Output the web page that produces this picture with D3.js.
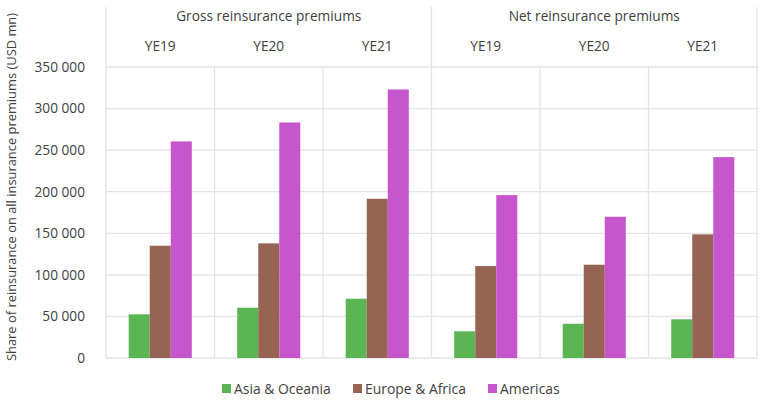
<!DOCTYPE html>
<html><head><meta charset="utf-8">
<script src="https://cdn.jsdelivr.net/npm/d3@7"></script>
<style>body{margin:0;background:#fff;} text{font-family:"Open Sans",sans-serif;fill:#404040;}</style>
</head><body>
<svg id="c" width="768" height="401"></svg>
<script>
const groups = ["Gross reinsurance premiums", "Net reinsurance premiums"];
const years = ["YE19", "YE20", "YE21"];
const series = ["Asia & Oceania", "Europe & Africa", "Americas"];
const colors = ["#5ab552", "#976454", "#c656cc"];
const asia = [52500, 60500, 71300, 32100, 41200, 46500];
const europe = [135000, 137900, 191500, 110600, 112200, 148700];
const americas = [260500, 283300, 323000, 195900, 169900, 241600];
const yTicks = [0, 50000, 100000, 150000, 200000, 250000, 300000, 350000];
const yTitle = "Share of reinsurance on all insurance premiums (USD mn)";

const values = [asia, europe, americas];
const cells = [];
groups.forEach((g, gi) => years.forEach((y, yi) => cells.push({g, y, key: g + "|" + y, i: gi * 3 + yi})));

const svg = d3.select("#c");
const L = 106, R = 757, T = 67, B = 358;
const x0 = d3.scaleBand().domain(cells.map(c => c.key)).range([L, R]).padding(0);
const xg = d3.scaleBand().domain(groups).range([L, R]).padding(0);
const x1 = d3.scaleBand().domain(series).range([0, x0.bandwidth()]).paddingInner(0).paddingOuter(1.08);
const y = d3.scaleLinear().domain([0, 350000]).range([B, T]);

const grid = "#e3e3e3";
svg.append("g").selectAll("line").data(yTicks).join("line")
  .attr("x1", L).attr("x2", R).attr("y1", d => y(d)).attr("y2", d => y(d))
  .attr("stroke", grid).attr("stroke-width", 1.3);
const vx = cells.map(c => x0(c.key)).concat([R]);
svg.append("g").selectAll("line").data(vx).join("line")
  .attr("x1", d => d).attr("x2", d => d)
  .attr("y1", (d, i) => (i % 3 === 0) ? 7 : T).attr("y2", B)
  .attr("stroke", grid).attr("stroke-width", 1.3);

cells.forEach(c => {
  svg.append("g").attr("transform", `translate(${x0(c.key)},0)`)
    .selectAll("rect").data(series.map((s, si) => ({s, v: values[si][c.i], col: colors[si]}))).join("rect")
    .attr("x", d => x1(d.s)).attr("width", x1.bandwidth())
    .attr("y", d => y(d.v)).attr("height", d => B - y(d.v))
    .attr("fill", d => d.col);
});

const fmt = v => d3.format(",")(v).replace(/,/g, " ");
const ya = svg.append("g").attr("transform", `translate(${L},0)`)
  .call(d3.axisLeft(y).tickValues(yTicks).tickFormat(fmt).tickSize(0).tickPadding(21));
ya.select(".domain").remove();
ya.selectAll("text").style("font-size", "13.7px").attr("fill", "#404040").style("font-family", "'Open Sans',sans-serif");

svg.append("g").selectAll("text").data(groups).join("text")
  .attr("x", d => xg(d) + xg.bandwidth() / 2).attr("y", 21).attr("text-anchor", "middle")
  .style("font-size", "13.7px").text(d => d);
svg.append("g").selectAll("text").data(cells).join("text")
  .attr("x", d => x0(d.key) + x0.bandwidth() / 2).attr("y", 51).attr("text-anchor", "middle")
  .style("font-size", "13.7px").text(d => d.y);

svg.append("text").attr("transform", `translate(16,187) rotate(-90)`).attr("text-anchor", "middle")
  .style("font-size", "12.9px").text(yTitle);

const lx = [222, 353, 488];
const lg = svg.append("g").selectAll("g").data(series).join("g")
  .attr("transform", (d, i) => `translate(${lx[i]},389)`);
lg.append("rect").attr("x", 0).attr("y", -5).attr("width", 9).attr("height", 9).attr("fill", (d, i) => colors[i]);
lg.append("text").attr("x", 12).attr("y", 5).style("font-size", "13.9px").text(d => d);
</script>
</body></html>
